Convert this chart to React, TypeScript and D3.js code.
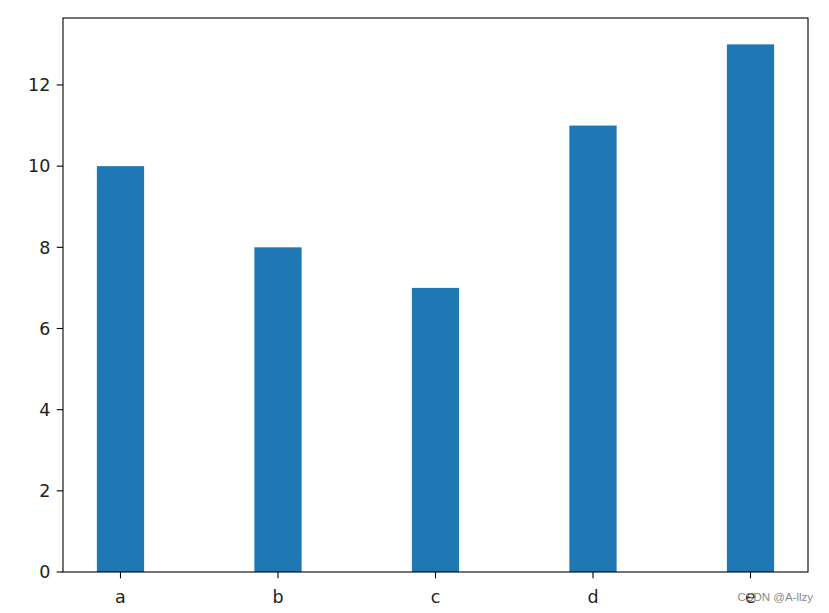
import React from "react";
import * as d3 from "d3";

const categories = ["a", "b", "c", "d", "e"];
const values = [10, 8, 7, 11, 13];
const yTicks = [0, 2, 4, 6, 8, 10, 12];

export default function App() {
  const W = 829, H = 613;
  const left = 63, right = 808, top = 18, bottom = 572;
  const barW = 0.3;
  const n = categories.length;
  const xMin = -barW / 2, xMax = n - 1 + barW / 2;
  const xm = (xMax - xMin) * 0.05;
  const x = d3.scaleLinear().domain([xMin - xm, xMax + xm]).range([left, right]);
  const yMax = d3.max(values)! * 1.05;
  const y = d3.scaleLinear().domain([0, yMax]).range([bottom, top]);
  const font = "DejaVu Sans, sans-serif";
  const fs = 17.5;
  const tick = 6.3;
  return (
    <svg width={W} height={H} style={{ position: "absolute", left: 0, top: 0 }}>
      <rect x={0} y={0} width={W} height={H} fill="#fff" />
      {values.map((v, i) => (
        <rect key={i} x={x(i - barW / 2)} y={y(v)} width={x(i + barW / 2) - x(i - barW / 2)} height={y(0) - y(v)} fill="#1f77b4" />
      ))}
      <rect x={left} y={top} width={right - left} height={bottom - top} fill="none" stroke="#000" strokeWidth={1.1} />
      {yTicks.map((t) => (
        <g key={t}>
          <line x1={left - tick} x2={left} y1={y(t)} y2={y(t)} stroke="#000" strokeWidth={1.1} />
          <text x={left - tick - 6.3} y={y(t)} dy="0.36em" textAnchor="end" fontFamily={font} fontSize={fs} fill="#222">{t}</text>
        </g>
      ))}
      {categories.map((c, i) => (
        <g key={c}>
          <line x1={x(i)} x2={x(i)} y1={bottom} y2={bottom + tick} stroke="#000" strokeWidth={1.1} />
          <text x={x(i)} y={603} textAnchor="middle" fontFamily={font} fontSize={fs} fill="#222">{c}</text>
        </g>
      ))}
      <text x={813} y={601} textAnchor="end" fontFamily="Liberation Sans, Arial, sans-serif" fontSize={11.5} fill="#8a8a8a">CSDN @A-llzy</text>
    </svg>
  );
}
